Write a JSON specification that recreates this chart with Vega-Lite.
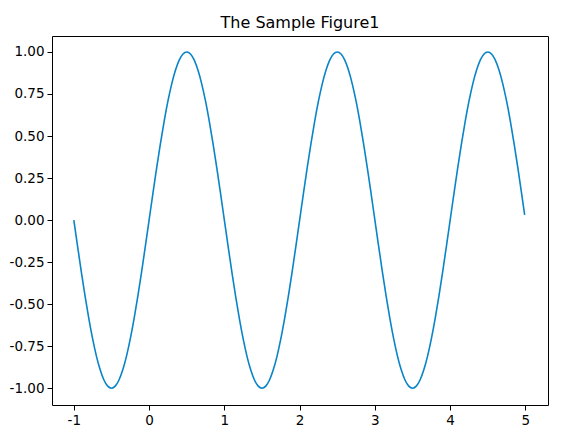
{
  "$schema": "https://vega.github.io/schema/vega-lite/v6.json",
  "width": 496,
  "height": 369,
  "autosize": {"type": "none"},
  "padding": {"left": 52, "top": 36, "right": 21, "bottom": 34},
  "background": "white",
  "title": {"text": "The Sample Figure1", "fontSize": 16, "fontWeight": "normal", "font": "DejaVu Sans", "color": "#000", "offset": 5},
  "config": {
    "view": {"stroke": "#000", "strokeWidth": 1},
    "axis": {"grid": false, "domain": false, "tickColor": "#000", "tickSize": 5, "tickWidth": 1, "labelFont": "DejaVu Sans", "labelFontSize": 13.5, "labelColor": "#000", "labelPadding": 3, "title": null}
  },
  "data": {"values": [
    {"x":-1,"y":0},{"x":-0.95,"y":-0.1564},{"x":-0.9,"y":-0.309},{"x":-0.85,"y":-0.454},{"x":-0.8,"y":-0.5878},{"x":-0.75,"y":-0.7071},{"x":-0.7,"y":-0.809},{"x":-0.65,"y":-0.891},{"x":-0.6,"y":-0.9511},{"x":-0.55,"y":-0.9877},{"x":-0.5,"y":-1},{"x":-0.45,"y":-0.9877},{"x":-0.4,"y":-0.9511},{"x":-0.35,"y":-0.891},{"x":-0.3,"y":-0.809},{"x":-0.25,"y":-0.7071},{"x":-0.2,"y":-0.5878},{"x":-0.15,"y":-0.454},{"x":-0.1,"y":-0.309},{"x":-0.05,"y":-0.1564},
    {"x":0,"y":0},{"x":0.05,"y":0.1564},{"x":0.1,"y":0.309},{"x":0.15,"y":0.454},{"x":0.2,"y":0.5878},{"x":0.25,"y":0.7071},{"x":0.3,"y":0.809},{"x":0.35,"y":0.891},{"x":0.4,"y":0.9511},{"x":0.45,"y":0.9877},{"x":0.5,"y":1},{"x":0.55,"y":0.9877},{"x":0.6,"y":0.9511},{"x":0.65,"y":0.891},{"x":0.7,"y":0.809},{"x":0.75,"y":0.7071},{"x":0.8,"y":0.5878},{"x":0.85,"y":0.454},{"x":0.9,"y":0.309},{"x":0.95,"y":0.1564},
    {"x":1,"y":0},{"x":1.05,"y":-0.1564},{"x":1.1,"y":-0.309},{"x":1.15,"y":-0.454},{"x":1.2,"y":-0.5878},{"x":1.25,"y":-0.7071},{"x":1.3,"y":-0.809},{"x":1.35,"y":-0.891},{"x":1.4,"y":-0.9511},{"x":1.45,"y":-0.9877},{"x":1.5,"y":-1},{"x":1.55,"y":-0.9877},{"x":1.6,"y":-0.9511},{"x":1.65,"y":-0.891},{"x":1.7,"y":-0.809},{"x":1.75,"y":-0.7071},{"x":1.8,"y":-0.5878},{"x":1.85,"y":-0.454},{"x":1.9,"y":-0.309},{"x":1.95,"y":-0.1564},
    {"x":2,"y":0},{"x":2.05,"y":0.1564},{"x":2.1,"y":0.309},{"x":2.15,"y":0.454},{"x":2.2,"y":0.5878},{"x":2.25,"y":0.7071},{"x":2.3,"y":0.809},{"x":2.35,"y":0.891},{"x":2.4,"y":0.9511},{"x":2.45,"y":0.9877},{"x":2.5,"y":1},{"x":2.55,"y":0.9877},{"x":2.6,"y":0.9511},{"x":2.65,"y":0.891},{"x":2.7,"y":0.809},{"x":2.75,"y":0.7071},{"x":2.8,"y":0.5878},{"x":2.85,"y":0.454},{"x":2.9,"y":0.309},{"x":2.95,"y":0.1564},
    {"x":3,"y":0},{"x":3.05,"y":-0.1564},{"x":3.1,"y":-0.309},{"x":3.15,"y":-0.454},{"x":3.2,"y":-0.5878},{"x":3.25,"y":-0.7071},{"x":3.3,"y":-0.809},{"x":3.35,"y":-0.891},{"x":3.4,"y":-0.9511},{"x":3.45,"y":-0.9877},{"x":3.5,"y":-1},{"x":3.55,"y":-0.9877},{"x":3.6,"y":-0.9511},{"x":3.65,"y":-0.891},{"x":3.7,"y":-0.809},{"x":3.75,"y":-0.7071},{"x":3.8,"y":-0.5878},{"x":3.85,"y":-0.454},{"x":3.9,"y":-0.309},{"x":3.95,"y":-0.1564},
    {"x":4,"y":0},{"x":4.05,"y":0.1564},{"x":4.1,"y":0.309},{"x":4.15,"y":0.454},{"x":4.2,"y":0.5878},{"x":4.25,"y":0.7071},{"x":4.3,"y":0.809},{"x":4.35,"y":0.891},{"x":4.4,"y":0.9511},{"x":4.45,"y":0.9877},{"x":4.5,"y":1},{"x":4.55,"y":0.9877},{"x":4.6,"y":0.9511},{"x":4.65,"y":0.891},{"x":4.7,"y":0.809},{"x":4.75,"y":0.7071},{"x":4.8,"y":0.5878},{"x":4.85,"y":0.454},{"x":4.9,"y":0.309},{"x":4.95,"y":0.1564},
    {"x":4.99,"y":0.0314}
  ]},
  "mark": {"type": "line", "color": "#0a84c8", "strokeWidth": 1.6, "interpolate": "monotone"},
  "encoding": {
    "x": {"field": "x", "type": "quantitative", "scale": {"domain": [-1.29, 5.3], "nice": false, "zero": false}, "axis": {"values": [-1,0,1,2,3,4,5], "labelExpr": "datum.value < 0 ? '-' + format(-datum.value, 'd') : format(datum.value, 'd')"}},
    "y": {"field": "y", "type": "quantitative", "scale": {"domain": [-1.1, 1.095], "nice": false, "zero": false}, "axis": {"values": [-1,-0.75,-0.5,-0.25,0,0.25,0.5,0.75,1], "labelExpr": "datum.value < 0 ? '-' + format(-datum.value, '.2f') : format(datum.value, '.2f')"}}
  }
}
